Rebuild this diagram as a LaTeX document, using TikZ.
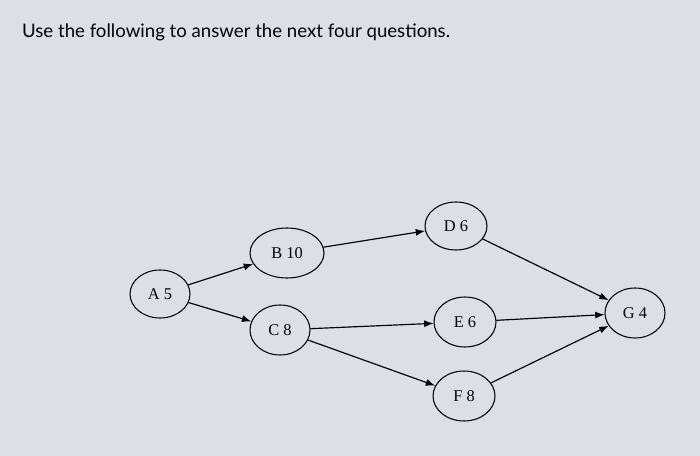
\documentclass[tikz,border=0pt]{standalone}
\usepackage{fontspec}
\setmainfont{Liberation Serif}
\newfontfamily\titlefont{Lato}
\usetikzlibrary{shapes.geometric,arrows.meta}
\definecolor{screen}{RGB}{220,224,230}

\begin{document}
\begin{tikzpicture}[x=0.03cm,y=-0.03cm]
  \tikzset{task/.style = {draw, ellipse, line width=0.9pt, inner sep=0pt, font=\fontsize{14}{16}\selectfont},
           link/.style = {-{Latex[length=8pt,width=6pt]}, line width=1pt}}
   \fill[screen] (0,0) rectangle (700,456);
   \useasboundingbox (0,0) rectangle (700,456);
   \node[anchor=west, font=\titlefont\fontsize{15.9}{18}\selectfont] (title) at (18,32) {Use the following to answer the next four questions.};

   \node[task, minimum width=1.8cm,  minimum height=1.44cm] (A) at (160,294) {A 5};
   \node[task, minimum width=2.22cm, minimum height=1.5cm]  (B) at (287,253) {B 10};
   \node[task, minimum width=1.8cm,  minimum height=1.5cm]  (C) at (280,330) {C 8};
   \node[task, minimum width=1.86cm, minimum height=1.44cm] (D) at (456,226) {D 6};
   \node[task, minimum width=1.86cm, minimum height=1.5cm]  (E) at (465,322) {E 6};
   \node[task, minimum width=1.86cm, minimum height=1.5cm]  (F) at (464,396) {F 8};
   \node[task, minimum width=1.8cm,  minimum height=1.5cm]  (G) at (635,313) {G 4};

   \draw[link] (A) -- (B);
   \draw[link] (A) -- (C);
   \draw[link] (B) -- (D);
   \draw[link] (C) -- (E);
   \draw[link] (C) -- (F);
   \draw[link] (D) -- (G);
   \draw[link] (E) -- (G);
   \draw[link] (F) -- (G);
\end{tikzpicture}
\end{document}
